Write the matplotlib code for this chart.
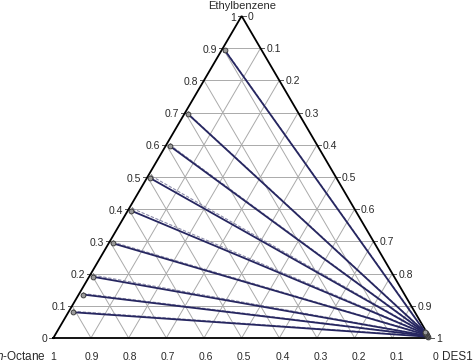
import numpy as np
import matplotlib
matplotlib.use("Agg")
import matplotlib.pyplot as plt

plt.rcParams["font.family"] = ["Liberation Sans", "DejaVu Sans"]
plt.rcParams["mathtext.fontset"] = "custom"
plt.rcParams["mathtext.it"] = "Liberation Sans:italic"
plt.rcParams["mathtext.rm"] = "Liberation Sans"

# ---- tie-line data (mole fractions) ----
# octane-rich phase (left ends), experimental
exp_left_E = [0.080, 0.135, 0.190, 0.294, 0.395, 0.496, 0.597, 0.696, 0.893]
exp_left_D = [0.012, 0.011, 0.011, 0.011, 0.010, 0.010, 0.010, 0.009, 0.009]
# DES-rich phase (right ends), experimental
exp_right_E = [0.004, 0.006, 0.007, 0.009, 0.011, 0.013, 0.015, 0.017, 0.020]
exp_right_O = [0.004, 0.004, 0.004, 0.004, 0.004, 0.004, 0.004, 0.004, 0.004]
# calculated (NRTL) tie lines
calc_left_E = [0.083, 0.138, 0.195, 0.298, 0.402, 0.503, 0.600, 0.698, 0.895]
calc_left_D = [0.010, 0.010, 0.009, 0.009, 0.009, 0.009, 0.009, 0.008, 0.008]
calc_right_E = [0.005, 0.007, 0.008, 0.010, 0.012, 0.014, 0.016, 0.018, 0.021]
calc_right_O = [0.003, 0.003, 0.003, 0.003, 0.003, 0.003, 0.003, 0.003, 0.003]

ticks = [0, 0.1, 0.2, 0.3, 0.4, 0.5, 0.6, 0.7, 0.8, 0.9, 1]
tick_txt = ["0", "0.1", "0.2", "0.3", "0.4", "0.5", "0.6", "0.7", "0.8", "0.9", "1"]

H = np.sqrt(3) / 2
PX, PY = 376.7, 371.8   # pixels per data unit


def xy(E, D):
    E, D = np.asarray(E), np.asarray(D)
    return D + E / 2, E * H


fig = plt.figure(figsize=(4.74, 3.64), dpi=100)
ax = fig.add_axes([0, 0, 1, 1])
ax.set_xlim(-53.3 / PX, (474 - 53.3) / PX)
ax.set_ylim(-26 / PY, (364 - 26) / PY)
ax.axis("off")

GRID = "#aaaaaa"
TXT = "#2a2a2a"
# grid
for t in ticks[1:-1]:
    # constant Ethylbenzene (horizontal)
    x0, y0 = xy(t, 0); x1, y1 = xy(t, 1 - t)
    ax.plot([x0, x1], [y0, y1], color=GRID, lw=0.7, zorder=1)
    # constant DES1 (parallel to left edge)
    x0, y0 = xy(0, t); x1, y1 = xy(1 - t, t)
    ax.plot([x0, x1], [y0, y1], color=GRID, lw=0.7, zorder=1)
    # constant n-Octane (parallel to right edge)
    x0, y0 = xy(0, 1 - t); x1, y1 = xy(1 - t, 0)
    ax.plot([x0, x1], [y0, y1], color=GRID, lw=0.7, zorder=1)

# frame
fx, fy = xy([0, 0, 1, 0], [0, 1, 0, 0])
ax.plot(fx, fy, color="black", lw=1.3, zorder=3, solid_joinstyle="miter")

# tick marks + labels
tk = 4 / PX
for t, s in zip(ticks, tick_txt):
    # left axis: Ethylbenzene
    x, y = xy(t, 0)
    ax.plot([x - tk, x], [y, y], color="#555555", lw=0.7, zorder=2)
    ax.text(x - 6 / PX, y - 1.5 / PY, s, ha="right", va="center", fontsize=7.5, color=TXT)
    # right axis: DES1 (= 1 - E along right edge)
    x, y = xy(t, 1 - t)
    ax.plot([x, x + tk], [y, y], color="#555555", lw=0.7, zorder=2)
    ax.text(x + 6 / PX, y - 1 / PY, tick_txt[10 - ticks.index(t)], ha="left", va="center",
            fontsize=7.5, color=TXT)
    # bottom axis: n-Octane
    x, y = xy(0, t)
    ax.text(x * 1.014, y - 19 / PY, tick_txt[10 - ticks.index(t)], ha="center", va="center",
            fontsize=7.5, color=TXT)

# axis titles
ax.text(0.5, H + 10 / PY, "Ethylbenzene", ha="center", va="center", fontsize=8, color=TXT)
ax.text(-8 / PX, -19 / PY, "$\\it{n}$-Octane", ha="right", va="center", fontsize=8.5, color=TXT)
ax.text(1 + 12 / PX, -19 / PY, "DES1", ha="left", va="center", fontsize=8.5, color=TXT)

# tie lines
NAVY = "#262660"
for i in range(len(exp_left_E)):
    xl, yl = xy(calc_left_E[i], calc_left_D[i])
    xr, yr = xy(calc_right_E[i], 1 - calc_right_E[i] - calc_right_O[i])
    ax.plot([xl, xr], [yl, yr], color="#8a8aa8", lw=0.8, ls=(0, (3, 1.5)), zorder=4,
            marker="^", ms=3, mfc="none", mec="#777777", mew=0.6)
    xl, yl = xy(exp_left_E[i], exp_left_D[i])
    xr, yr = xy(exp_right_E[i], 1 - exp_right_E[i] - exp_right_O[i])
    ax.plot([xl, xr], [yl, yr], color=NAVY, lw=1.3, zorder=5,
            marker="o", ms=3.5, mfc="#9a9a9a", mec="#333333", mew=0.6)

fig.savefig("out.png", dpi=100)
